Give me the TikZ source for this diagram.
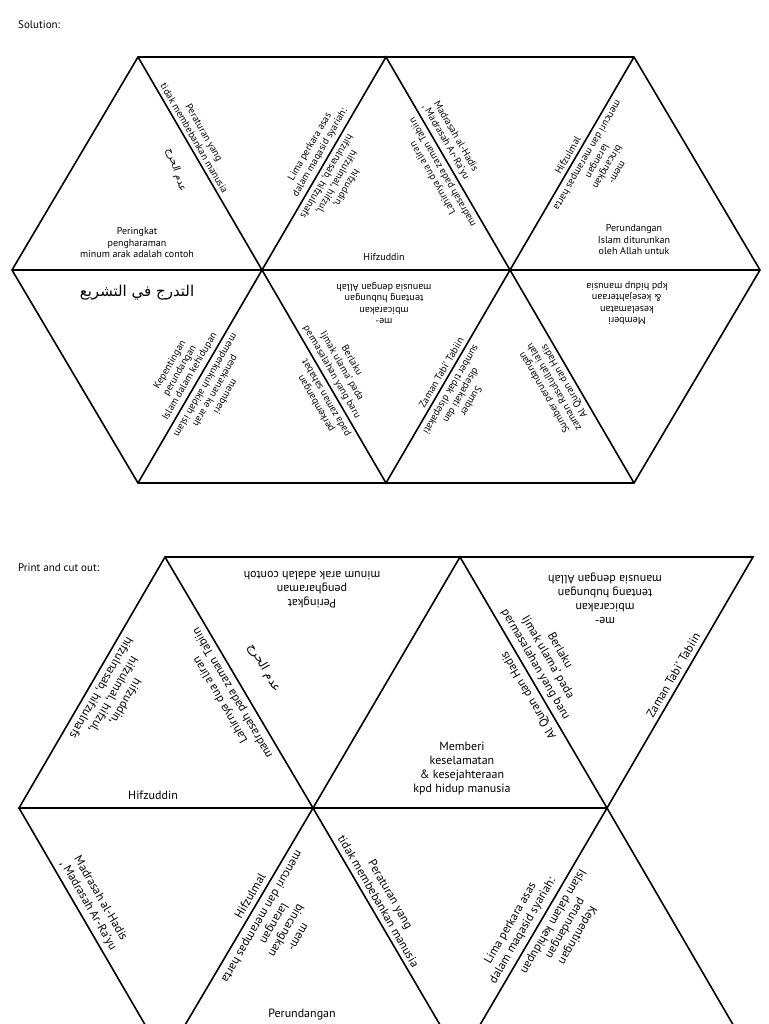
\documentclass[tikz,border=0pt]{standalone}
\usepackage{fontspec}
\setmainfont{PT Sans}
\newfontfamily\arabicfont[Script=Arabic]{DejaVu Sans}
\TeXXeTstate=1
\usetikzlibrary{calc}
\begin{document}
\begin{tikzpicture}[x=1pt,y=1pt,
  edge/.style={line width=1.6pt, line join=miter},
  ta/.style={align=center, inner sep=0pt, font=\fontsize{10}{11.5}\selectfont},
  tb/.style={align=center, inner sep=0pt, font=\fontsize{12}{14}\selectfont},
  ea/.style={ta, anchor=south, inner ysep=4pt},
  eb/.style={tb, anchor=south, inner ysep=5pt},
  lab/.style={anchor=west, inner sep=0pt, font=\fontsize{11}{13}\selectfont}]
\useasboundingbox (0,0) rectangle (768,-1024);
% ---------- top hexagon ----------
\coordinate (a1) at (138,-57);  \coordinate (a2) at (386,-57);  \coordinate (a3) at (634,-57);
\coordinate (b0) at (12,-270);  \coordinate (b1) at (262,-270); \coordinate (b2) at (510,-270); \coordinate (b3) at (760,-270);
\coordinate (c1) at (138,-483); \coordinate (c2) at (386,-483); \coordinate (c3) at (634,-483);
\draw[edge] (a1) -- (a3) -- (b3) -- (c3) -- (c1) -- (b0) -- cycle;
\draw[edge] (b0) -- (b3);
\draw[edge] (a1) -- (b1) -- (a2) -- (b2) -- (a3);
\draw[edge] (c1) -- (b1) -- (c2) -- (b2) -- (c3);
\node[lab] (sol) at (18,-25) {Solution:};
\node[ta] (t1) at (137,-243) {Peringkat\\pengharaman\\minum arak adalah contoh};
\node[ta, rotate=-72] (t2) at (176,-170) {\arabicfont\beginR عدم الحرج\endR};
\node[ea, rotate=-60] (t3) at ($(a1)!0.40!(b1)$) {Peraturan yang\\tidak membebankan manusia};
\node[ea, rotate=60] (t4) at ($(b1)!0.53!(a2)$) {Lima perkara asas\\dalam maqasid syariah:};
\node[ea, rotate=-120] (t5) at ($(b1)!0.46!(a2)$) {hifzuddin,\\hifzulmal, hifzul,\\hifzulnasab, hifzulnafs};
\node[ta] (t6) at (384,-257) {Hifzuddin};
\node[ea, rotate=120] (t7) at ($(a2)!0.52!(b2)$) {Lahirnya dua aliran\\madrasah pada zaman Tabiin};
\node[ea, rotate=-60] (t8) at ($(a2)!0.42!(b2)$) {Madrasah al-Hadis\\, Madrasah Ar-Ra'yu};
\node[ea, rotate=60] (t9) at ($(b2)!0.52!(a3)$) {Hifzulmal};
\node[ea, rotate=-120] (t10) at ($(b2)!0.56!(a3)$) {mem-\\bincangkan\\larangan\\mencuri dan merampas harta};
\node[ta] (t11) at (634,-240) {Perundangan\\Islam diturunkan\\oleh Allah untuk};
\node[inner sep=0pt, font=\arabicfont\fontsize{15}{17}\selectfont] (t12) at (137,-293) {\beginR التدرج في التشريع\endR};
\node[ea, rotate=60] (t13) at ($(c1)!0.48!(b1)$) {Kepentingan\\perundangan\\Islam dalam kehidupan};
\node[ea, rotate=-120] (t14) at ($(c1)!0.48!(b1)$) {memberi\\penekanan ke arah\\memperkukuh akidah islam};
\node[ta, rotate=180] (t15) at (384,-303) {me-\\mbicarakan\\tentang hubungan\\manusia dengan Allah};
\node[ea, rotate=-60] (t16) at ($(b1)!0.50!(c2)$) {Berlaku\\Ijmak ulama' pada\\permasalahan yang baru};
\node[ea, rotate=120] (t17) at ($(b1)!0.58!(c2)$) {perkembangan\\pada zaman sahabat};
\node[ea, rotate=60] (t18) at ($(c2)!0.50!(b2)$) {Zaman Tabi' Tabiin};
\node[ea, rotate=-120] (t19) at ($(c2)!0.46!(b2)$) {Sumber\\disepakati dan\\sumber tidak disepakati};
\node[ta, rotate=180] (t20) at (627,-303) {Memberi\\keselamatan\\\& kesejahteraan\\kpd hidup manusia};
\node[ea, rotate=120] (t21) at ($(b2)!0.50!(c3)$) {Sumber perundangan\\zaman Rasulullah ialah\\Al Quran dan Hadis};
% ---------- print and cut out ----------
\coordinate (d1) at (165,-557); \coordinate (d2) at (460,-557); \coordinate (d3) at (753,-557);
\coordinate (e0) at (19,-808);  \coordinate (e1) at (313,-808); \coordinate (e2) at (607,-808);
\coordinate (f1) at (165,-1059); \coordinate (f2) at (460,-1059); \coordinate (f3) at (753,-1059);
\draw[edge] (d1) -- (d3) -- (e2) -- (e0) -- cycle;
\draw[edge] (d1) -- (e1) -- (d2) -- (e2);
\draw[edge] (e0) -- (f1) -- (e1) -- (f2) -- (e2) -- (f3);
\node[lab] (pc) at (18,-568) {Print and cut out:};
\node[tb, rotate=180] (u1) at (312,-590) {Peringkat\\pengharaman\\minum arak adalah contoh};
\node[tb, rotate=180] (u2) at (605,-598) {me-\\mbicarakan\\tentang hubungan\\manusia dengan Allah};
\node[eb, rotate=-120] (u3) at ($(d1)!0.50!(e0)$) {hifzuddin,\\hifzulmal, hifzul,\\hifzulnasab, hifzulnafs};
\node[eb, rotate=120] (u4) at ($(d1)!0.52!(e1)$) {Lahirnya dua aliran\\madrasah pada zaman Tabiin};
\node[tb, rotate=-60] (u5) at (264,-668) {\arabicfont\beginR عدم الحرج\endR};
\node[tb] (u6) at (153,-795) {Hifzuddin};
\node[eb, rotate=-60] (u7) at ($(d2)!0.45!(e2)$) {Berlaku\\Ijmak ulama' pada\\permasalahan yang baru};
\node[eb, rotate=120] (u8) at ($(d2)!0.53!(e2)$) {Al Quran dan Hadis};
\node[eb, rotate=60] (u9) at ($(e2)!0.51!(d3)$) {Zaman Tabi' Tabiin};
\node[tb] (u10) at (462,-768) {Memberi\\keselamatan\\\& kesejahteraan\\kpd hidup manusia};
\node[eb, rotate=-60] (u11) at ($(e0)!0.41!(f1)$) {Madrasah al-Hadis\\, Madrasah Ar-Ra'yu};
\node[eb, rotate=60] (u12) at ($(f1)!0.63!(e1)$) {Hifzulmal};
\node[eb, rotate=-120] (u13) at ($(f1)!0.59!(e1)$) {mem-\\bincangkan\\larangan\\mencuri dan merampas harta};
\node[tb] (u14) at (302,-1015) {Perundangan};
\node[eb, rotate=-60] (u15) at ($(e1)!0.39!(f2)$) {Peraturan yang\\tidak membebankan manusia};
\node[eb, rotate=60] (u16) at ($(f2)!0.49!(e2)$) {Lima perkara asas\\dalam maqasid syariah:};
\node[eb, rotate=-120] (u17) at ($(f2)!0.57!(e2)$) {Kepentingan\\perundangan\\Islam dalam kehidupan};
\end{tikzpicture}
\end{document}
